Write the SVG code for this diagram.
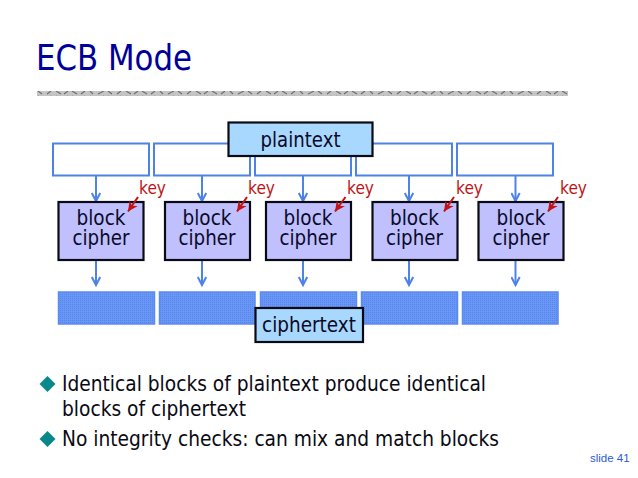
<svg xmlns="http://www.w3.org/2000/svg" width="638" height="478" viewBox="0 0 638 478">
<style>
text{font-family:"DejaVu Sans","Noto Sans",sans-serif}
.top{fill:#fff;stroke:#4d83e6;stroke-width:2}
.ct{fill:url(#dots);stroke:#5a8cf0;stroke-width:1.5}
.lbl{fill:#a9d8ff;stroke:#0a0a14;stroke-width:2.200}
.bc{fill:#c0c0ff;stroke:#0a0a14;stroke-width:2.200}
.t{font-size:20.500px;fill:#0a0a28;text-anchor:middle}
.key{font-size:17px;fill:#c01414}
.b{font-size:20.500px;fill:#0a0a14}
.bar{fill:#08888a}
.a{stroke:#4d83e6;stroke-width:2;fill:none;marker-end:url(#ab)}
.r{stroke:#c01414;stroke-width:2;fill:none;marker-end:url(#ar)}
</style>
<defs>
<pattern id="dots" width="2" height="2" patternUnits="userSpaceOnUse"><rect width="2" height="2" fill="#6a96f6"/><rect width="1" height="1" fill="#5585ea"/></pattern>
<pattern id="tex" width="70" height="5" patternUnits="userSpaceOnUse"><rect width="70" height="5" fill="#c4c4c4"/><path d="M2 1l5 3M11 4l4-3M20 1l3 3M28 4l6-3M38 1l4 3M47 4l4-3M56 1l5 3M64 4l4-3" stroke="#707070" stroke-width="1.200"/></pattern>
<marker id="ab" markerUnits="userSpaceOnUse" markerWidth="12" markerHeight="10" refX="9" refY="5" orient="auto"><path d="M1 0.800L9 5L1 9.200" fill="none" stroke="#4d83e6" stroke-width="2"/></marker>
<marker id="ar" markerUnits="userSpaceOnUse" markerWidth="12" markerHeight="12" refX="10" refY="5" orient="auto"><path d="M0 0L10 5L0 10L3 5Z" fill="#c01414"/></marker>
</defs>
<rect width="638" height="478" fill="#fff"/>
<text x="36" y="70" font-size="35" fill="#000099" textLength="156" lengthAdjust="spacingAndGlyphs">ECB Mode</text>
<rect x="37" y="91" width="531" height="5" fill="url(#tex)"/>
<g id="plaintext-blocks">
<rect class="top" x="53" y="143.500" width="96" height="32"/>
<rect class="top" x="154" y="143.500" width="96" height="32"/>
<rect class="top" x="255" y="143.500" width="96" height="32"/>
<rect class="top" x="356" y="143.500" width="96" height="32"/>
<rect class="top" x="457" y="143.500" width="96" height="32"/>
</g>
<g id="ciphertext-blocks">
<rect class="ct" x="58.500" y="292" width="96" height="32"/>
<rect class="ct" x="159.500" y="292" width="95.500" height="32"/>
<rect class="ct" x="260.500" y="292" width="96" height="32"/>
<rect class="ct" x="361.500" y="292" width="96" height="32"/>
<rect class="ct" x="462.500" y="292" width="95.500" height="32"/>
</g>
<g id="connectors">
<path class="a" d="M96 175V201"/><path class="a" d="M202 175V201"/><path class="a" d="M303 175V201"/><path class="a" d="M409 175V201"/><path class="a" d="M515.500 175V201"/>
<path class="a" d="M96 260V285"/><path class="a" d="M202 260V285"/><path class="a" d="M303 260V285"/><path class="a" d="M409 260V285"/><path class="a" d="M515.500 260V285"/>
</g>
<g id="plaintext"><rect class="lbl" x="228.500" y="122.500" width="144" height="33.500"/><text class="t" x="300.500" y="146.500" textLength="80" lengthAdjust="spacingAndGlyphs">plaintext</text></g>
<g id="ciphertext"><rect class="lbl" x="255.500" y="308" width="107.500" height="34"/><text class="t" x="309" y="332" textLength="94" lengthAdjust="spacingAndGlyphs">ciphertext</text></g>
<g id="cipher1"><rect class="bc" x="58.500" y="202" width="85" height="58"/><text class="t" x="101" y="225" textLength="49" lengthAdjust="spacingAndGlyphs">block</text><text class="t" x="101" y="245" textLength="57" lengthAdjust="spacingAndGlyphs">cipher</text></g>
<g id="cipher2"><rect class="bc" x="165" y="202" width="85" height="58"/><text class="t" x="207" y="225" textLength="49" lengthAdjust="spacingAndGlyphs">block</text><text class="t" x="207" y="245" textLength="57" lengthAdjust="spacingAndGlyphs">cipher</text></g>
<g id="cipher3"><rect class="bc" x="266" y="202" width="85" height="58"/><text class="t" x="308" y="225" textLength="49" lengthAdjust="spacingAndGlyphs">block</text><text class="t" x="308" y="245" textLength="57" lengthAdjust="spacingAndGlyphs">cipher</text></g>
<g id="cipher4"><rect class="bc" x="372.500" y="202" width="85" height="58"/><text class="t" x="414.500" y="225" textLength="49" lengthAdjust="spacingAndGlyphs">block</text><text class="t" x="414.500" y="245" textLength="57" lengthAdjust="spacingAndGlyphs">cipher</text></g>
<g id="cipher5"><rect class="bc" x="478.500" y="202" width="85" height="58"/><text class="t" x="521" y="225" textLength="49" lengthAdjust="spacingAndGlyphs">block</text><text class="t" x="521" y="245" textLength="57" lengthAdjust="spacingAndGlyphs">cipher</text></g>
<g id="keys">
<path class="r" d="M138 197L128 211.500"/><path class="r" d="M247 197L237 211.500"/><path class="r" d="M345.500 197L335 211.500"/><path class="r" d="M454 197L444 211.500"/><path class="r" d="M558 197L548 211.500"/>
<text class="key" x="139" y="194" textLength="27" lengthAdjust="spacingAndGlyphs">key</text>
<text class="key" x="248" y="194" textLength="27" lengthAdjust="spacingAndGlyphs">key</text>
<text class="key" x="347" y="194" textLength="27" lengthAdjust="spacingAndGlyphs">key</text>
<text class="key" x="456" y="194" textLength="27" lengthAdjust="spacingAndGlyphs">key</text>
<text class="key" x="560" y="194" textLength="27" lengthAdjust="spacingAndGlyphs">key</text>
</g>
<path class="bar" d="M47.500 376L55.500 384L47.500 392L39.500 384Z"/>
<path class="bar" d="M47.500 431L55.500 439L47.500 447L39.500 439Z"/>
<text class="b" x="62" y="391" textLength="424" lengthAdjust="spacingAndGlyphs">Identical blocks of plaintext produce identical</text>
<text class="b" x="62" y="416" textLength="184" lengthAdjust="spacingAndGlyphs">blocks of ciphertext</text>
<text class="b" x="62" y="446" textLength="437" lengthAdjust="spacingAndGlyphs">No integrity checks: can mix and match blocks</text>
<text x="590" y="462" font-size="11.500" fill="#2a5ad8" style="font-family:'Liberation Sans',sans-serif">slide 41</text>
</svg>
